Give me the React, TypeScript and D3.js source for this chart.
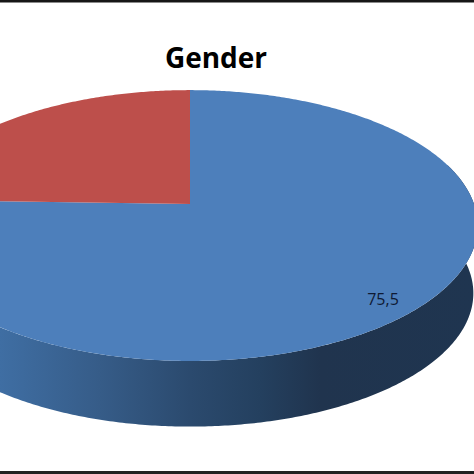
import { useMemo } from 'react'
import * as d3 from 'd3'

const title = 'Gender'
const categories = ['Group A', 'Group B']
const values = [75.5, 24.5]
const labels = ['75,5', '']
const colors = ['#4d7fbb', '#bd4f4b']

const size = 474

// the disk seen in perspective: front edge is closer so it looks bigger
const cx = 190
const cy = 204
const ax = 284
const ay = 132
const k = 0.159
const depth = 66
const shrink = 0.985

type Pt = [number, number]

const project = (angle: number, r = 1): Pt => {
  const u = Math.sin(angle) * r
  const v = -Math.cos(angle) * r
  const w = 1 - k * v
  return [cx + (ax * u) / w, cy + (ay * v) / w]
}

const projectBottom = (angle: number): Pt => {
  const p = project(angle)
  return [cx + (p[0] - cx) * shrink, cy + (p[1] - cy) * shrink + depth + 2]
}

const line = d3.line<Pt>()

const sweep = (a0: number, a1: number, fn: (a: number) => Pt) => {
  const steps = Math.ceil(Math.abs(a1 - a0) / 0.01)
  const t = d3.scaleLinear().domain([0, steps]).range([a0, a1])
  return d3.range(steps + 1).map(i => fn(t(i)))
}

const sideStops: [number, string][] = [
  [-100, '#4a7cb8'],
  [0, '#3f6ea3'],
  [100, '#365c88'],
  [190, '#2b4a6e'],
  [260, '#24405f'],
  [320, '#20344e'],
  [474, '#1f3550'],
]

export default function App() {
  const slices = useMemo(() => d3.pie<number>().sort(null)(values), [])

  // front wall runs from the right tip round to the left tip
  const wall = useMemo(() => {
    const top = sweep(Math.PI * 0.4, Math.PI * 1.6, a => project(a))
    const bottom = sweep(Math.PI * 1.6, Math.PI * 0.4, projectBottom)
    return line([...top, ...bottom]) + 'Z'
  }, [])

  return (
    <svg
      width={size}
      height={size}
      viewBox={`0 0 ${size} ${size}`}
      style={{ position: 'fixed', left: 0, top: 0, background: '#fff' }}
    >
      <defs>
        <linearGradient id="side" gradientUnits="userSpaceOnUse" x1={-100} x2={474} y1={0} y2={0}>
          {sideStops.map(([x, c]) => (
            <stop key={x} offset={(x + 100) / 574} stopColor={c} />
          ))}
        </linearGradient>
      </defs>

      <path d={wall} fill="url(#side)" />

      {slices.map((s, i) => {
        const rim = sweep(s.startAngle, s.endAngle, a => project(a))
        return (
          <path
            key={categories[i]}
            d={line([[cx, cy], ...rim]) + 'Z'}
            fill={colors[i]}
          />
        )
      })}

      {labels.map((label, i) => {
        if (!label) return null
        return (
          <text
            key={i}
            x={383}
            y={305}
            textAnchor="middle"
            fontFamily="'Open Sans', sans-serif"
            fontSize={16}
            fill="#0f1a33"
          >
            {label}
          </text>
        )
      })}

      <text
        x={216}
        y={68}
        textAnchor="middle"
        fontFamily="'Open Sans', sans-serif"
        fontWeight={700}
        fontSize={28}
        fill="#000"
      >
        {title}
      </text>

      <rect x={0} y={0} width={size} height={2.5} fill="#161616" />
      <rect x={0} y={471} width={size} height={3} fill="#222" />
    </svg>
  )
}
